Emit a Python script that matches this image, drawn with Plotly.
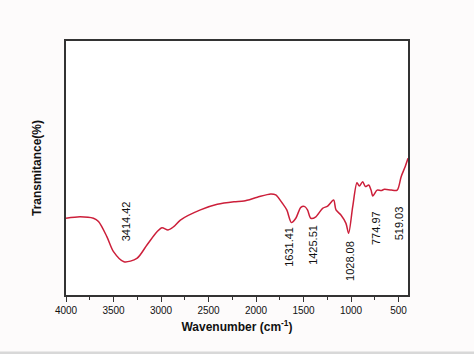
import plotly.graph_objects as go

wavenumber = [4000, 3852, 3711, 3658, 3570, 3500, 3390, 3254, 3148, 3042, 2989, 2926, 2866, 2796,
              2585, 2408, 2232, 2127, 1986, 1845, 1792, 1722, 1676, 1627, 1581, 1528, 1486, 1458,
              1423, 1370, 1299, 1246, 1183, 1158, 1106, 1053, 1025, 982, 937, 912, 877, 849, 813,
              789, 770, 725, 683, 648, 577, 514, 472, 430, 400]
transmittance = [30.2, 30.8, 30.2, 28.9, 23.0, 17.1, 13.1, 14.4, 19.7, 24.9, 26.5, 25.6, 26.9, 29.5,
                 33.5, 35.7, 36.7, 37.0, 38.5, 39.8, 39.4, 36.1, 33.5, 28.5, 30.2, 34.5, 34.8, 33.5,
                 30.2, 30.8, 34.1, 35.0, 37.4, 33.5, 31.5, 28.2, 24.3, 34.8, 44.2, 42.9, 44.6, 42.7,
                 43.3, 41.3, 39.0, 41.3, 41.1, 41.6, 41.3, 41.3, 46.6, 50.5, 53.8]

peak_labels = ["3414.42", "1631.41", "1425.51", "1028.08", "774.97", "519.03"]
label_x = [3366, 1655, 1401, 1011, 736, 493]
label_y = [29.1, 18.9, 19.7, 13.4, 26.4, 28.3]

x_tick_vals = [4000, 3500, 3000, 2500, 2000, 1500, 1000, 500]
x_tick_text = ["4000", "3500", "3000", "2500", "2000", "1500", "1000", "500"]

fig = go.Figure()
fig.add_trace(go.Scatter(x=wavenumber, y=transmittance, mode="lines",
                         line=dict(color="#cc1f3a", width=1.5, shape="spline", smoothing=0.8),
                         hoverinfo="skip", showlegend=False))

for t, xv, yv in zip(peak_labels, label_x, label_y):
    fig.add_annotation(x=xv, y=yv, text=t, textangle=-90, showarrow=False,
                       font=dict(family="Liberation Sans, Arial", size=11, color="#111111"))

fig.update_layout(
    width=474, height=354,
    margin=dict(l=66, r=66, t=41, b=59),
    paper_bgcolor="#fdfbfb", plot_bgcolor="#ffffff",
    font=dict(family="Liberation Sans, Arial", color="#111111"),
    xaxis=dict(range=[4000, 400], tickvals=x_tick_vals, ticktext=x_tick_text,
               ticks="outside", ticklen=5, tickwidth=1.2, tickcolor="#333333",
               minor=dict(dtick=250, ticks="outside", ticklen=3, tickwidth=1, tickcolor="#333333"),
               showline=True, linecolor="#333333", linewidth=1.5, mirror=True,
               showgrid=False, zeroline=False,
               tickfont=dict(size=10, color="#111111"),
               title=dict(text="<b>Wavenumber (cm<sup>-1</sup>)</b>", font=dict(size=12), standoff=8)),
    yaxis=dict(range=[0, 100], showticklabels=False, ticks="",
               showline=True, linecolor="#333333", linewidth=1.5, mirror=True,
               showgrid=False, zeroline=False,
               title=dict(text="<b>Transmitance(%)</b>", font=dict(size=12), standoff=20)),
)

fig.add_shape(type="rect", xref="paper", yref="paper", x0=-0.3, x1=1.3, y0=-0.235, y1=-0.222,
              fillcolor="#d8d8d8", line=dict(width=0), layer="below")

fig.write_html("out.html")
